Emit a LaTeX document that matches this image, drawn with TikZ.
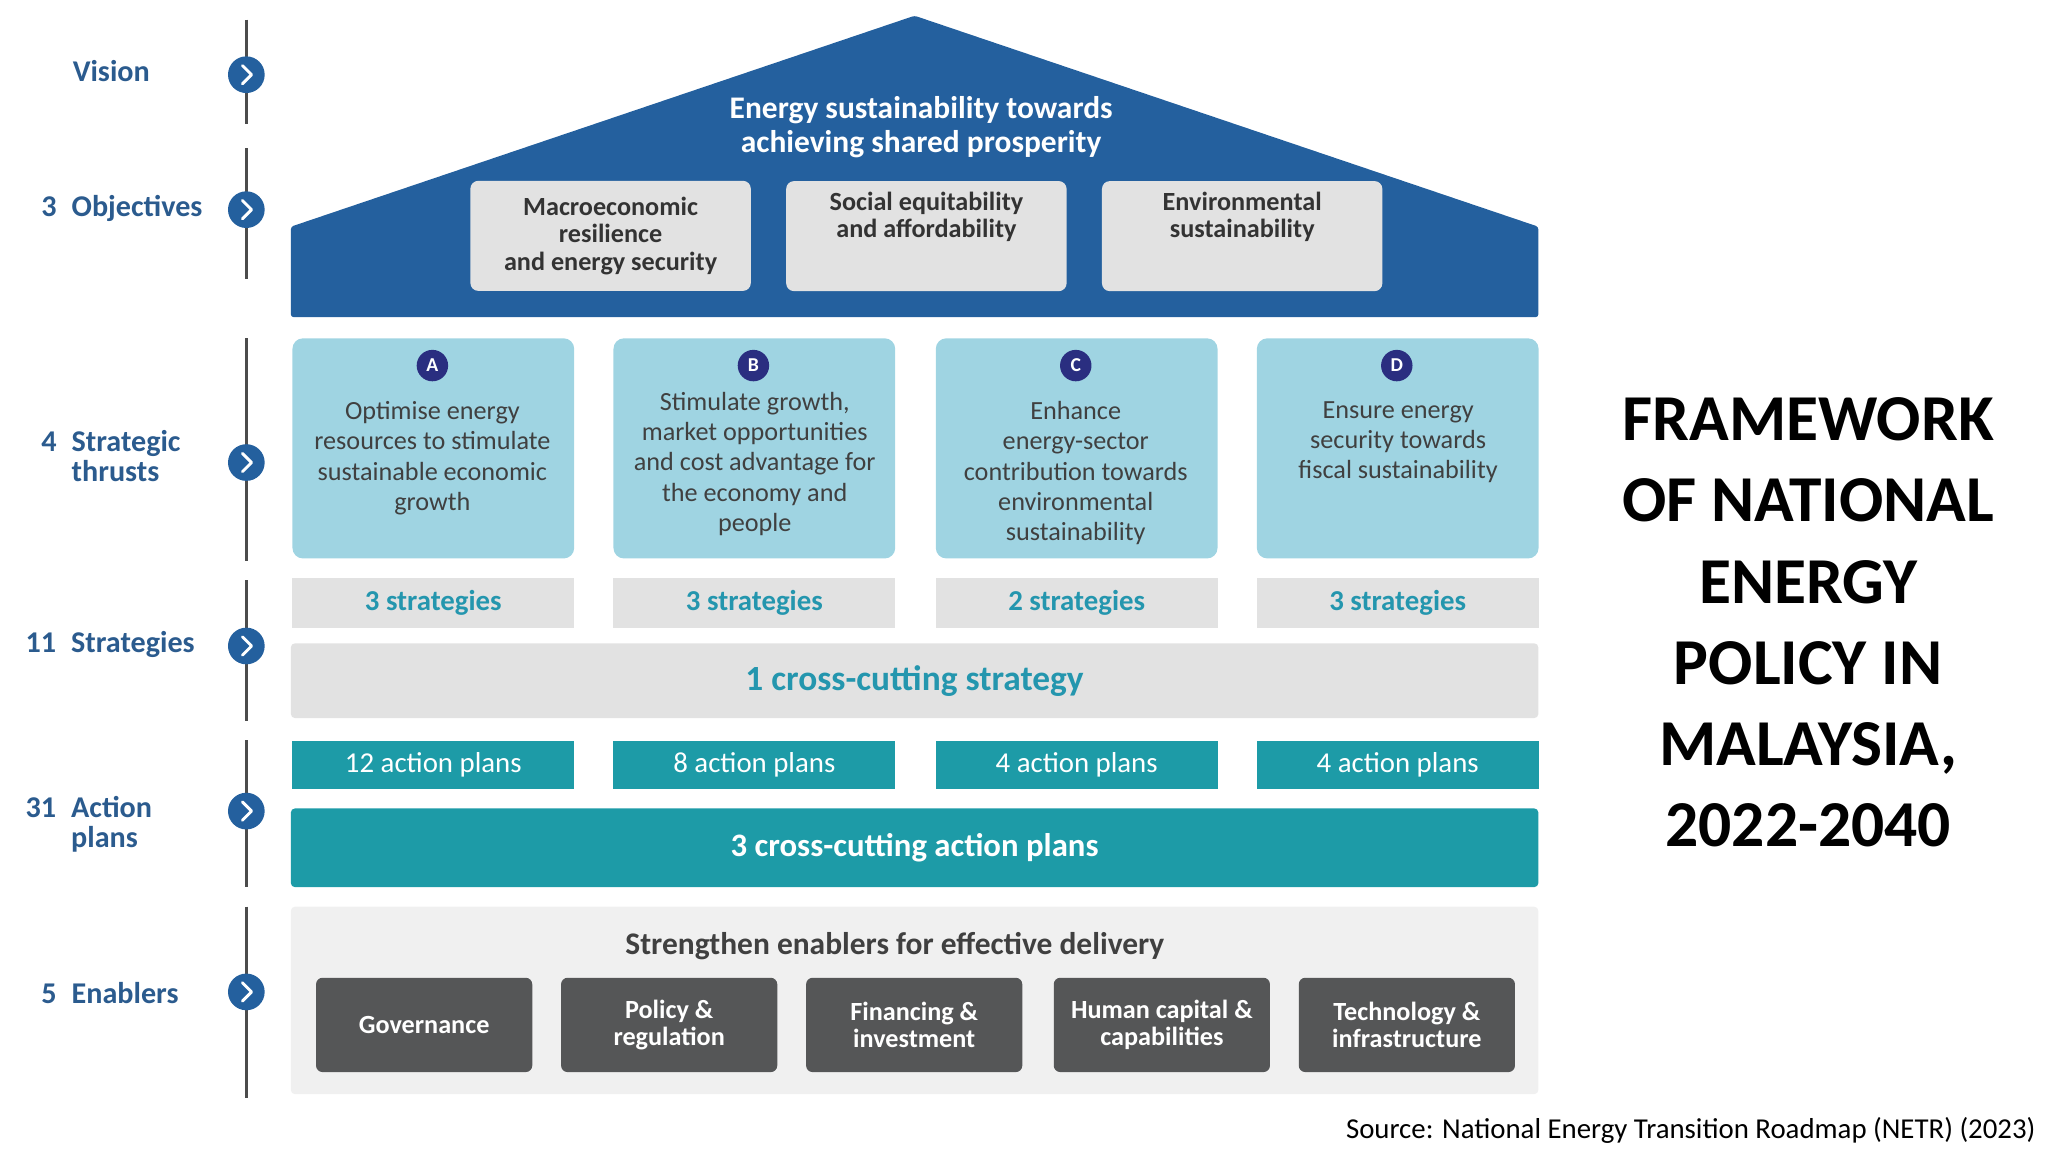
\documentclass[tikz,border=0pt]{standalone}
\usepackage{fontspec}
\setmainfont{Carlito}
\usetikzlibrary{arrows.meta,calc}
\definecolor{roof}{HTML}{24609E}
\definecolor{lab}{HTML}{2B5B8E}
\definecolor{lblue}{HTML}{9FD4E2}
\definecolor{navy}{HTML}{2A2E80}
\definecolor{teal}{HTML}{1D9BA7}
\definecolor{tealtxt}{HTML}{2496AE}
\definecolor{lgray}{HTML}{E2E2E2}
\definecolor{egray}{HTML}{F0F0F0}
\definecolor{dgray}{HTML}{555657}
\tikzset{
 lbl/.style={text=lab,font=\fontsize{23}{23}\selectfont\bfseries,align=left,anchor=west},
 chev/.style={circle,fill=roof,minimum size=28pt,inner sep=0pt},
 obj/.style={draw=none,fill=lgray,rounded corners=6pt,text=black!80,font=\fontsize{20}{21}\selectfont\bfseries,align=center},
 objt/.style={text=black!80,font=\fontsize{20}{21}\selectfont\bfseries,align=center,anchor=north},
 thr/.style={fill=lblue,rounded corners=8pt,text=black!75,font=\fontsize{20}{23}\selectfont,align=center},
 let/.style={circle,fill=navy,text=white,minimum size=24pt,inner sep=0pt,font=\fontsize{15}{15}\selectfont\bfseries},
 str/.style={fill=lgray,text=tealtxt,font=\fontsize{22}{22}\selectfont\bfseries},
 act/.style={fill=teal,text=white,font=\fontsize{22}{22}\selectfont},
 en/.style={fill=dgray,rounded corners=5pt,text=white,font=\fontsize{20}{21}\selectfont\bfseries,align=center},
}
\begin{document}
\begin{tikzpicture}[x=1pt,y=-1pt]
\useasboundingbox (0,0) rectangle (1563,879);
% left axis
\foreach \a/\b in {15/95,113/213,258/428,443/550,565/677,692/838}
  \draw[line width=2pt,black!70] (188,\a) -- (188,\b);
\foreach \y [count=\i] in {57,160,353,493,619,757}{
  \node[chev] (c\i) at (188,\y) {};
  \draw[white,line width=2.2pt,line cap=round,line join=round] ($(c\i)+(-3,-7)$) -- ($(c\i)+(4,0)$) -- ($(c\i)+(-3,7)$);
}
\node[lbl] (l1) at (52,54) {Vision};
\node[lbl] (l2) at (28,159) {3\enspace Objectives};
\node[lbl] (l3) at (28,348) {4\enspace Strategic\\\phantom{4\enspace}thrusts};
\node[lbl] (l4) at (16,492) {11\enspace Strategies};
\node[lbl] (l5) at (16,629) {31\enspace Action\\\phantom{31\enspace}plans};
\node[lbl] (l6) at (28,758) {5\enspace Enablers};
% roof
\fill[roof,rounded corners=2pt] (222,173) -- (698,12) -- (1174,173) -- (1174,242) -- (222,242) -- cycle;
\node[text=white,font=\fontsize{24}{26}\selectfont\bfseries,align=center] (vis) at (703,97) {Energy sustainability towards\\achieving shared prosperity};
\node[obj,minimum width=214pt,minimum height=84pt] (o1) at (466,180) {Macroeconomic\\resilience\\and energy security};
\node[obj,minimum width=214pt,minimum height=84pt,anchor=north] (o2) at (707,138) {};
\node[objt] (o2t) at (707,143) {Social equitability\\and affordability};
\node[obj,minimum width=214pt,minimum height=84pt,anchor=north] (o3) at (948,138) {};
\node[objt] (o3t) at (948,143) {Environmental\\sustainability};
% thrusts
\foreach \x/\L [count=\i] in {223/A,468/B,714/C,959/D}{
  \node[thr,minimum width=215pt,minimum height=168pt,anchor=north west] (t\i) at (\x,258) {};
  \node[let] (k\i) at (\x+107,279) {\L};
}
\node[thr,anchor=north] (tt1) at (330,303) {Optimise energy\\resources to stimulate\\sustainable economic\\growth};
\node[thr,anchor=north] (tt2) at (576,296) {Stimulate growth,\\market opportunities\\and cost advantage for\\the economy and\\people};
\node[thr,anchor=north] (tt3) at (821,303) {Enhance\\energy-sector\\contribution towards\\environmental\\sustainability};
\node[thr,anchor=north] (tt4) at (1067,303) {Ensure energy\\security towards\\fiscal sustainability};
% strategies
\foreach \x/\t [count=\i] in {223/3 strategies,468/3 strategies,714/2 strategies,959/3 strategies}
  \node[str,minimum width=215pt,minimum height=38pt,anchor=north west] (s\i) at (\x,441) {\t};
\node[str,minimum width=952pt,minimum height=57pt,rounded corners=3pt,font=\fontsize{27}{27}\selectfont\bfseries] (cs) at (698,519.5) {1 cross-cutting strategy};
% action plans
\foreach \x/\t [count=\i] in {223/12 action plans,468/8 action plans,714/4 action plans,959/4 action plans}
  \node[act,minimum width=215pt,minimum height=37pt,anchor=north west] (a\i) at (\x,565) {\t};
\node[act,minimum width=952pt,minimum height=60pt,rounded corners=3pt,font=\fontsize{25}{25}\selectfont\bfseries] (ca) at (698,647) {3 cross-cutting action plans};
% enablers
\node[fill=egray,minimum width=952pt,minimum height=143pt,rounded corners=3pt] (eb) at (698,763.5) {};
\node[text=black!75,font=\fontsize{24}{24}\selectfont\bfseries] (et) at (683,722) {Strengthen enablers for effective delivery};
\foreach \x/\t [count=\i] in {241/Governance,428/{Policy \&\\regulation},615/{Financing \&\\investment},804/{Human capital \&\\capabilities},991/{Technology \&\\infrastructure}}
  \node[en,minimum width=165pt,minimum height=72pt,anchor=north west] (e\i) at (\x,746) {\t};
% title
\node[font=\fontsize{50}{62}\selectfont\bfseries,align=center] (title) at (1380,475) {FRAMEWORK\\OF NATIONAL\\ENERGY\\POLICY IN\\MALAYSIA,\\2022-2040};
\node[font=\fontsize{22}{22}\selectfont,anchor=east] (src) at (1557,863) {Source: National Energy Transition Roadmap (NETR) (2023)};
\end{tikzpicture}
\end{document}
